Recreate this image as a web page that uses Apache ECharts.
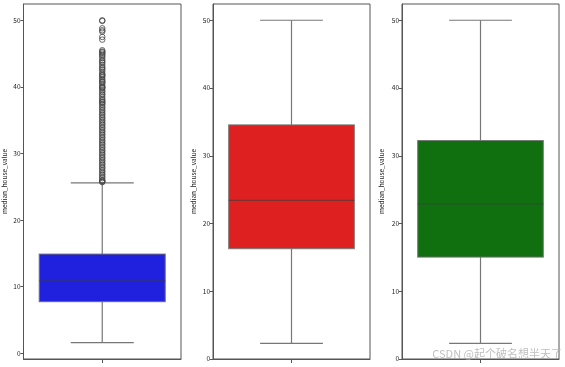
<!DOCTYPE html>
<html>
<head>
<meta charset="utf-8">
<script src="https://cdn.jsdelivr.net/npm/echarts@6/dist/echarts.min.js"></script>
<style>html,body{margin:0;padding:0;background:#fff}#c{width:565px;height:367px}</style>
</head>
<body>
<div id="c"></div>
<script>
// ---- data ----
const categories = [''];
const yTicks = [0, 10, 20, 30, 40, 50];
const yName = 'median_house_value';
// [lower whisker, Q1, median, Q3, upper whisker]
const blueBox = [1.6, 7.75, 10.85, 14.9, 25.6];
const redBox = [2.3, 16.3, 23.4, 34.55, 50.0];
const greenBox = [2.3, 15.05, 22.9, 32.25, 50.0];
const blueOutliers = [50.0, 49.9, 48.8, 48.5, 48.3, 47.5, 47.1, 45.5, 45.3, 45.2, 45.0, 44.8, 44.6, 44.3, 44.0, 43.8, 43.6, 43.3,
  43.0, 42.8, 42.6, 42.3, 42.0, 41.8, 41.7, 41.5, 41.2, 41.0, 40.8, 40.7, 40.5, 40.2, 40.0, 39.9, 39.8, 39.5, 39.3, 39.0,
  38.8, 38.5, 38.2, 38.0, 37.8, 37.7, 37.5, 37.3, 37.0, 36.8, 36.5, 36.3, 36.0, 35.8, 35.5, 35.3, 35.0,
  34.8, 34.5, 34.3, 34.0, 33.8, 33.5, 33.3, 33.0, 32.8, 32.5, 32.3, 32.0, 31.8, 31.5, 31.3, 31.0,
  30.8, 30.5, 30.3, 30.0, 29.8, 29.5, 29.3, 29.0, 28.8, 28.5, 28.3, 28.0, 27.8, 27.5, 27.3, 27.0,
  26.8, 26.5, 26.3, 26.0, 25.9, 25.8, 25.7];
const boxColors = ['#2020df', '#df2020', '#107010'];
const watermark = 'CSDN @起个破名想半天了';

// ---- chart ----
const chart = echarts.init(document.getElementById('c'), null, {renderer: 'canvas'});
const font = 'Noto Sans CJK SC';
const lineColor = '#777777';
const panels = [
  {left: 23, width: 158, min: -0.86, max: 52.45, box: blueBox, gap: 16},
  {left: 213, width: 157, min: 0, max: 52.4, box: redBox, gap: 16},
  {left: 402, width: 157, min: 0, max: 52.4, box: greenBox, gap: 17}
];

function makeRender(color) {
  return function (params, api) {
    const lo = api.value(1), q1 = api.value(2), med = api.value(3), q3 = api.value(4), hi = api.value(5);
    const bw = api.size([1, 0])[0];
    const boxW = bw * 0.8, capW = bw * 0.4;
    const pLo = api.coord([0, lo]), pQ1 = api.coord([0, q1]), pMed = api.coord([0, med]);
    const pQ3 = api.coord([0, q3]), pHi = api.coord([0, hi]);
    const cx = pMed[0];
    const ls = {stroke: lineColor, lineWidth: 1.2};
    return {
      type: 'group',
      children: [
        {type: 'line', shape: {x1: cx, y1: pQ3[1], x2: cx, y2: pHi[1]}, style: ls},
        {type: 'line', shape: {x1: cx, y1: pQ1[1], x2: cx, y2: pLo[1]}, style: ls},
        {type: 'line', shape: {x1: cx - capW / 2, y1: pHi[1], x2: cx + capW / 2, y2: pHi[1]}, style: ls},
        {type: 'line', shape: {x1: cx - capW / 2, y1: pLo[1], x2: cx + capW / 2, y2: pLo[1]}, style: ls},
        {type: 'rect', shape: {x: cx - boxW / 2, y: pQ3[1], width: boxW, height: pQ1[1] - pQ3[1]},
          style: {fill: color, stroke: 'rgba(110,110,110,0.8)', lineWidth: 1.2}},
        {type: 'line', shape: {x1: cx - boxW / 2, y1: pMed[1], x2: cx + boxW / 2, y2: pMed[1]},
          style: {stroke: 'rgba(60,60,60,0.6)', lineWidth: 1.3}}
      ]
    };
  };
}

const grid = [], xAxis = [], yAxis = [], series = [];
panels.forEach((p, i) => {
  grid.push({left: p.left, width: p.width, top: 4, height: 355, show: true,
    borderColor: '#555', borderWidth: 1, backgroundColor: '#fff'});
  xAxis.push({type: 'category', data: categories, gridIndex: i, boundaryGap: true,
    axisLine: {show: true, onZero: false, lineStyle: {color: '#555', width: 1}},
    axisTick: {show: true, alignWithLabel: true, length: 4, lineStyle: {color: '#555'}},
    axisLabel: {show: false}, splitLine: {show: false}});
  yAxis.push({type: 'value', gridIndex: i, min: p.min, max: p.max,
    name: yName, nameLocation: 'middle', nameGap: p.gap,
    nameTextStyle: {fontFamily: font, fontSize: 6.5, color: '#222'},
    axisLine: {show: true, lineStyle: {color: '#555', width: 1}},
    axisTick: {show: true, length: 3, customValues: yTicks, lineStyle: {color: '#555'}},
    axisLabel: {show: true, customValues: yTicks, margin: 3, fontFamily: font, fontSize: 6.5, color: '#222'},
    splitLine: {show: false}});
  series.push({type: 'custom', xAxisIndex: i, yAxisIndex: i,
    renderItem: makeRender(boxColors[i]),
    encode: {x: 0, y: [1, 2, 3, 4, 5]},
    data: [[0].concat(p.box)], z: 2});
});
series.push({type: 'scatter', xAxisIndex: 0, yAxisIndex: 0, symbol: 'circle', symbolSize: 5.5,
  itemStyle: {color: 'rgba(255,255,255,0)', borderColor: '#444', borderWidth: 1},
  data: blueOutliers.map(v => [0, v]), z: 3});

chart.setOption({
  animation: false,
  backgroundColor: '#fff',
  grid, xAxis, yAxis, series,
  graphic: [{type: 'text', right: 3, top: 348,
    style: {text: watermark, fontFamily: font, fontSize: 11, fill: 'rgba(170,170,170,0.75)'}, z: 100}]
});
</script>
</body>
</html>
